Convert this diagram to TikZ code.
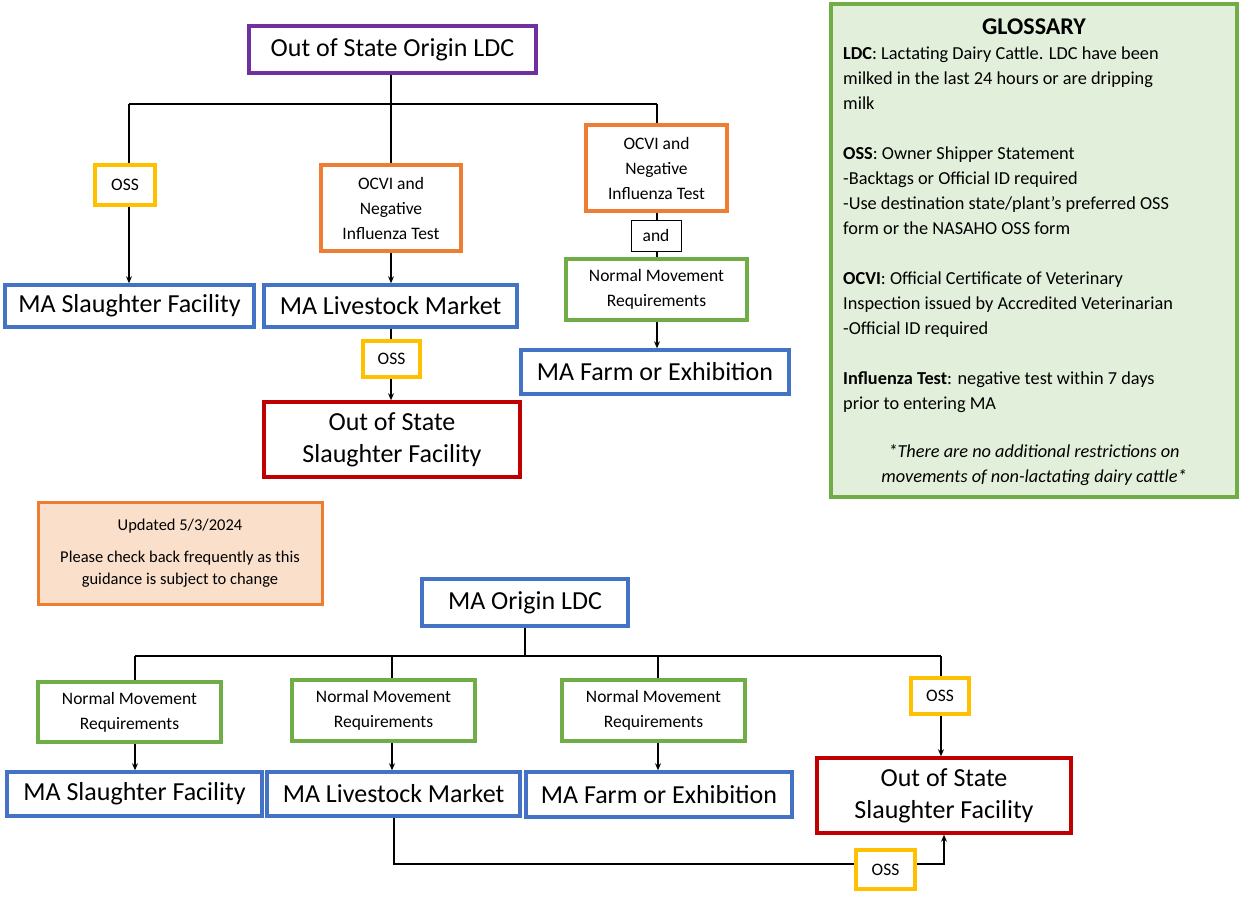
\documentclass[tikz,border=0pt]{standalone}
\usepackage{fontspec}
\setmainfont{Carlito}
\usetikzlibrary{arrows.meta}
\begin{document}
\begin{tikzpicture}[x=1pt,y=-1pt,
 bx/.style={draw,line width=3.5pt,inner sep=0pt,align=center},
 big/.style={font=\fontsize{26}{32}\selectfont},
 sm/.style={font=\fontsize{17.5}{25}\selectfont},
 arr/.style={-{Stealth[length=7pt,width=6pt]},line width=1.3pt},
 ln/.style={line width=1.3pt}]
\definecolor{cpur}{HTML}{7030A0}\definecolor{cora}{HTML}{ED7D31}
\definecolor{cyel}{HTML}{FFC000}\definecolor{cgrn}{HTML}{70AD47}
\definecolor{cblu}{HTML}{4472C4}\definecolor{cred}{HTML}{C00000}
\useasboundingbox (0,0) rectangle (1240,899);
\newcommand{\bxn}[7]{\node[bx,#6,draw=#5,minimum width=#3-#1,minimum height=#4-#2] (#7) at ({(#1+#3)/2},{(#2+#4)/2})}
% top
\bxn{249}{26}{536}{73}{cpur}{big}{o1} {Out of State Origin LDC};
\bxn{95}{165}{155}{205}{cyel}{sm}{oss1} {OSS};
\bxn{321}{165}{461}{251}{cora}{sm}{ocvi1} {OCVI and\\Negative\\Influenza Test};
\bxn{586}{125}{727}{211}{cora}{sm}{ocvi2} {OCVI and\\Negative\\Influenza Test};
\node[draw,line width=0.8pt,sm,minimum width=50,minimum height=31,inner sep=0] (and) at (656,235.5) {and};
\bxn{566}{259}{747}{320}{cgrn}{sm}{nm1} {Normal Movement\\Requirements};
\bxn{5}{285}{254}{327}{cblu}{big}{sf1} {MA Slaughter Facility};
\bxn{264}{285}{517}{327}{cblu}{big}{lm1} {MA Livestock Market};
\bxn{363}{341}{420}{377}{cyel}{sm}{oss2} {OSS};
\bxn{264}{402}{520}{477}{cred}{big}{os1} {Out of State\\Slaughter Facility};
\bxn{521}{350}{789}{394}{cblu}{big}{fe1} {MA Farm or Exhibition};
\coordinate (j1) at (391,104);
\draw[ln] (o1.south -| j1) -- (j1);
\draw[ln] (129,104) -- (657,104);
\draw[ln] (129,104) -- (oss1.north -| 129,0);
\draw[arr] (oss1.south -| 129,0) -- (sf1.north -| 129,0);
\draw[ln] (j1) -- (ocvi1.north -| j1);
\draw[arr] (ocvi1.south -| j1) -- (lm1.north -| j1);
\draw[ln] (657,104) -- (ocvi2.north -| 657,0);
\draw[ln] (ocvi2.south -| 657,0) -- (and.north -| 657,0);
\draw[ln] (and.south -| 657,0) -- (nm1.north -| 657,0);
\draw[arr] (nm1.south -| 657,0) -- (fe1.north -| 657,0);
\draw[ln] (lm1.south -| 391,0) -- (oss2.north -| 391,0);
\draw[arr] (oss2.south -| 391,0) -- (os1.north -| 391,0);
% glossary
\node[draw=cgrn,fill=cgrn!20,line width=3.5pt,minimum width=406,minimum height=493,inner sep=0] (gl) at (1034,250.5) {};
\node[anchor=north west,inner sep=0,align=left,font=\fontsize{18.3}{25}\selectfont] (gt) at (843,47) {%
\textbf{LDC}: Lactating Dairy Cattle. LDC have been\\
milked in the last 24 hours or are dripping\\
milk\\[25pt]
\textbf{OSS}: Owner Shipper Statement\\
-Backtags or Official ID required\\
-Use destination state/plant’s preferred OSS\\
form or the NASAHO OSS form\\[25pt]
\textbf{OCVI}: Official Certificate of Veterinary\\
Inspection issued by Accredited Veterinarian\\
-Official ID required\\[25pt]
\textbf{Influenza Test}: negative test within 7 days\\
prior to entering MA};
\node[font=\fontsize{24}{28}\selectfont\bfseries] (gh) at (1034,27) {GLOSSARY};
\node[align=center,font=\fontsize{18.3}{25}\selectfont\itshape] (gn) at (1034,465) {*There are no additional restrictions on\\movements of non-lactating dairy cattle*};
% updated
\node[draw=cora,fill=cora!25,line width=3pt,minimum width=284,minimum height=102,inner sep=0,align=center,font=\fontsize{16.5}{22}\selectfont] (up) at (180,553) {Updated 5/3/2024\\[10pt]Please check back frequently as this\\guidance is subject to change};
% bottom
\bxn{422}{579}{628}{626}{cblu}{big}{o2} {MA Origin LDC};
\bxn{38}{682}{221}{742}{cgrn}{sm}{nm2} {Normal Movement\\Requirements};
\bxn{292}{680}{475}{741}{cgrn}{sm}{nm3} {Normal Movement\\Requirements};
\bxn{562}{680}{745}{741}{cgrn}{sm}{nm4} {Normal Movement\\Requirements};
\bxn{911}{678}{969}{714}{cyel}{sm}{oss3} {OSS};
\bxn{7}{772}{262}{816}{cblu}{big}{sf2} {MA Slaughter Facility};
\bxn{267}{772}{520}{816}{cblu}{big}{lm2} {MA Livestock Market};
\bxn{526}{772}{792}{817}{cblu}{big}{fe2} {MA Farm or Exhibition};
\bxn{817}{758}{1071}{833}{cred}{big}{os2} {Out of State\\Slaughter Facility};
\coordinate (j2) at (525,656);
\draw[ln] (o2.south -| j2) -- (j2);
\draw[ln] (135,656) -- (941,656);
\foreach \xx/\a/\b in {135/nm2/sf2,392/nm3/lm2,658/nm4/fe2,941/oss3/os2}{
 \draw[ln] (\xx,656) -- (\a.north -| \xx,0);
 \draw[arr] (\a.south -| \xx,0) -- (\b.north -| \xx,0);}
\coordinate (c1) at (394,864);
\coordinate (c2) at (944,864);
\draw[arr] (lm2.south -| c1) -- (c1) -- (c2) -- (os2.south -| c2);
\bxn{856}{850}{915}{889}{cyel}{sm,fill=white}{oss4} {OSS};
\end{tikzpicture}
\end{document}
